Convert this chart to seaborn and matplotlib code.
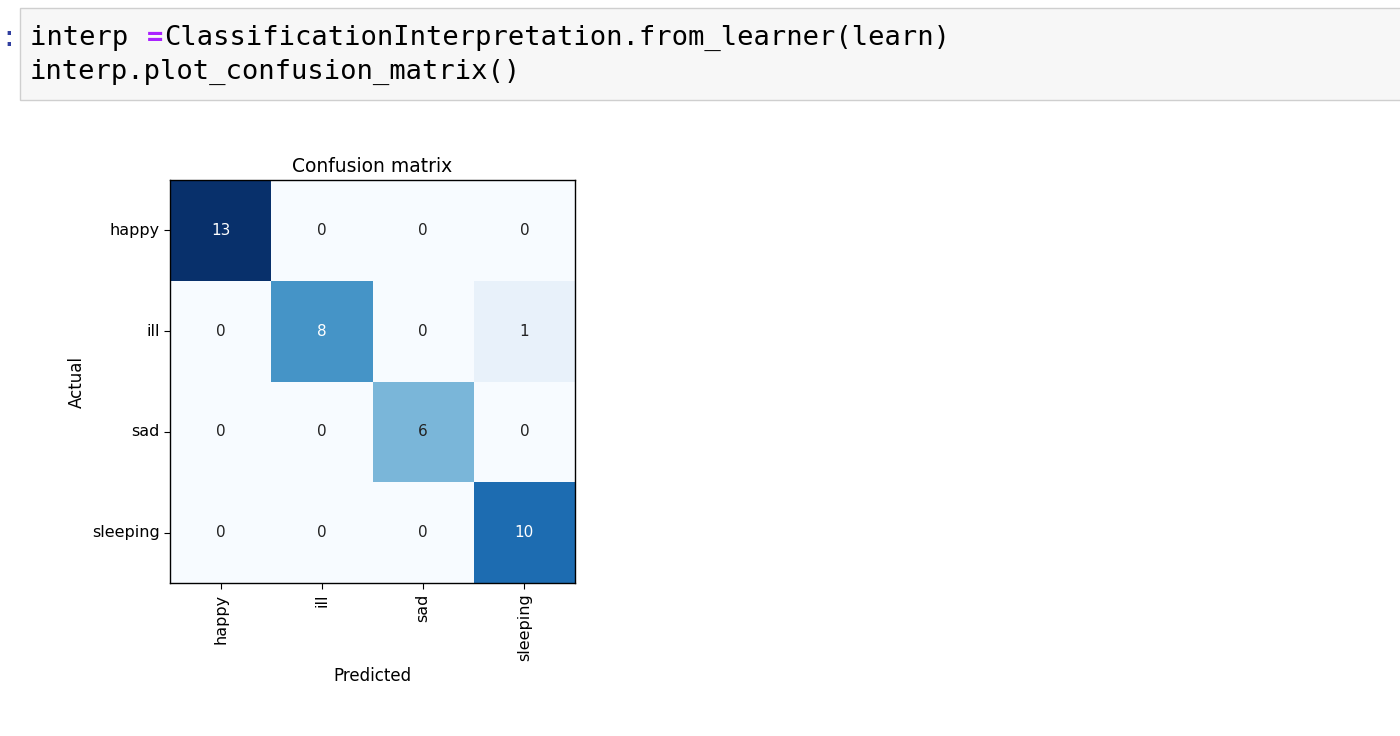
import matplotlib
matplotlib.use("Agg")
import matplotlib.pyplot as plt
import seaborn as sns
import numpy as np
import pandas as pd
from matplotlib.patches import Rectangle

classes = ["happy", "ill", "sad", "sleeping"]
row_happy = [13, 0, 0, 0]
row_ill = [0, 8, 0, 1]
row_sad = [0, 0, 6, 0]
row_sleeping = [0, 0, 0, 10]
code_line1_a = "interp "
code_line1_eq = "="
code_line1_b = " ClassificationInterpretation.from_learner(learn)"
code_line2 = "interp.plot_confusion_matrix()"

cm = pd.DataFrame([row_happy, row_ill, row_sad, row_sleeping], index=classes, columns=classes)

fig = plt.figure(figsize=(14, 7.36), dpi=100)
fig.patch.set_facecolor("white")

# code cell
fig.patches.append(Rectangle((20/1400, 1-100/736), 1390/1400, 92/736, transform=fig.transFigure,
                             facecolor="#f7f7f7", edgecolor="#cfcfcf", lw=1))
fig.text(0/1400, 1-38/736, ":", color="#303f9f", fontsize=20, family="DejaVu Sans Mono", va="center")
mono = dict(fontsize=19.5, family="DejaVu Sans Mono", va="center")
t1 = fig.text(30/1400, 1-38/736, code_line1_a, color="#000000", **mono)
fig.text(30/1400 + 7*16.75/1400, 1-38/736, code_line1_eq, color="#aa22ff", fontweight="bold", **mono)
fig.text(30/1400 + 8*16.75/1400, 1-38/736, code_line1_b.strip(), color="#000000", **mono)
fig.text(30/1400, 1-72/736, code_line2, color="#000000", **mono)

ax = fig.add_axes([170/1400, 1-583/736, 405/1400, 403/736])
sns.heatmap(cm, ax=ax, cmap="Blues", vmin=0, vmax=13, cbar=False, annot=True, fmt="d",
            annot_kws={"fontsize": 11}, square=False)
thresh = cm.values.max() / 2
for t in ax.texts:
    v = int(t.get_text())
    t.set_color("white" if v > thresh else "#222222")
for s in ax.spines.values():
    s.set_visible(True)
    s.set_color("black")
    s.set_linewidth(1)
ax.tick_params(axis="both", length=4, labelsize=11.5, color="black")
ax.set_xticklabels(classes, rotation=90)
ax.set_yticklabels(classes, rotation=0)
ax.set_title("Confusion matrix", fontsize=13.5)
ax.set_xlabel("Predicted", fontsize=12)
ax.set_ylabel("Actual", fontsize=12)

fig.savefig("out.png", dpi=100)
